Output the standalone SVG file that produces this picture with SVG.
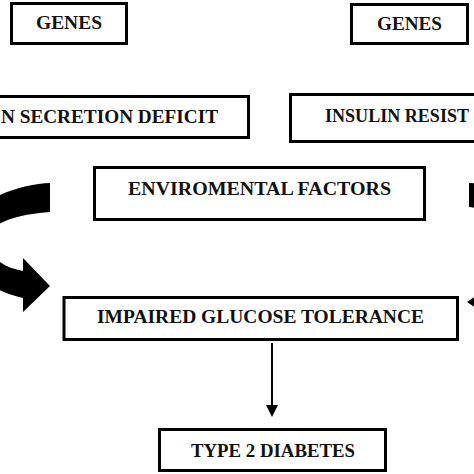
<svg xmlns="http://www.w3.org/2000/svg" width="474" height="474" viewBox="0 0 474 474">
<style>
.box{fill:#fff;stroke:#000;stroke-width:3}
.t{font-family:"Liberation Serif","Times New Roman",serif;font-weight:bold;font-size:19px;fill:#111}
.big{fill:#000}
</style>
<rect x="0" y="0" width="474" height="474" fill="#fff"/>
<g id="connectors">
  <path class="big" d="M50,183 C20,184 -35,200 -35,240 C-35,275 -5,292 23,298 L23,312 L50,286 L23,258 L23,271 C5,268 -12,258 -12,240 C-12,225 10,215 50,212 Z"/>
  <path class="big" d="M469,183 C499,184 554,200 554,240 C554,280 524,300 496,308 L496,322 L467,302 L496,282 L496,292 C514,288 531,258 531,240 C531,225 509,212 469,207 Z"/>
  <line x1="272" y1="343" x2="272" y2="406" stroke="#000" stroke-width="2"/>
  <polygon points="266,405 278,405 272,417" fill="#000"/>
</g>
<g id="genes-left">
  <rect class="box" x="11.5" y="3.5" width="115" height="40"/>
  <text class="t" x="36" y="29" textLength="66" lengthAdjust="spacingAndGlyphs">GENES</text>
</g>
<g id="genes-right">
  <rect class="box" x="351.5" y="4.5" width="116" height="39"/>
  <text class="t" x="377" y="30" textLength="65" lengthAdjust="spacingAndGlyphs">GENES</text>
</g>
<g id="insulin-secretion-deficit">
  <rect class="box" x="-100" y="96.5" width="348.5" height="41"/>
  <text class="t" x="1" y="123" textLength="217" lengthAdjust="spacingAndGlyphs">N SECRETION DEFICIT</text>
</g>
<g id="insulin-resistance">
  <rect class="box" x="290.5" y="94.5" width="300" height="47"/>
  <text class="t" x="325" y="122" style="font-size:18px" textLength="144" lengthAdjust="spacingAndGlyphs">INSULIN RESIST</text>
</g>
<g id="environmental-factors">
  <rect class="box" x="94.5" y="167.5" width="330" height="52"/>
  <text class="t" x="128" y="195" textLength="263" lengthAdjust="spacingAndGlyphs">ENVIROMENTAL FACTORS</text>
</g>
<g id="impaired-glucose-tolerance">
  <rect class="box" x="64" y="297.5" width="393.5" height="42"/>
  <text class="t" x="97" y="323" textLength="327" lengthAdjust="spacingAndGlyphs">IMPAIRED GLUCOSE TOLERANCE</text>
</g>
<g id="type-2-diabetes">
  <rect class="box" x="159.5" y="429.5" width="226" height="41"/>
  <text class="t" x="191" y="457" textLength="164" lengthAdjust="spacingAndGlyphs">TYPE 2 DIABETES</text>
</g>
</svg>
